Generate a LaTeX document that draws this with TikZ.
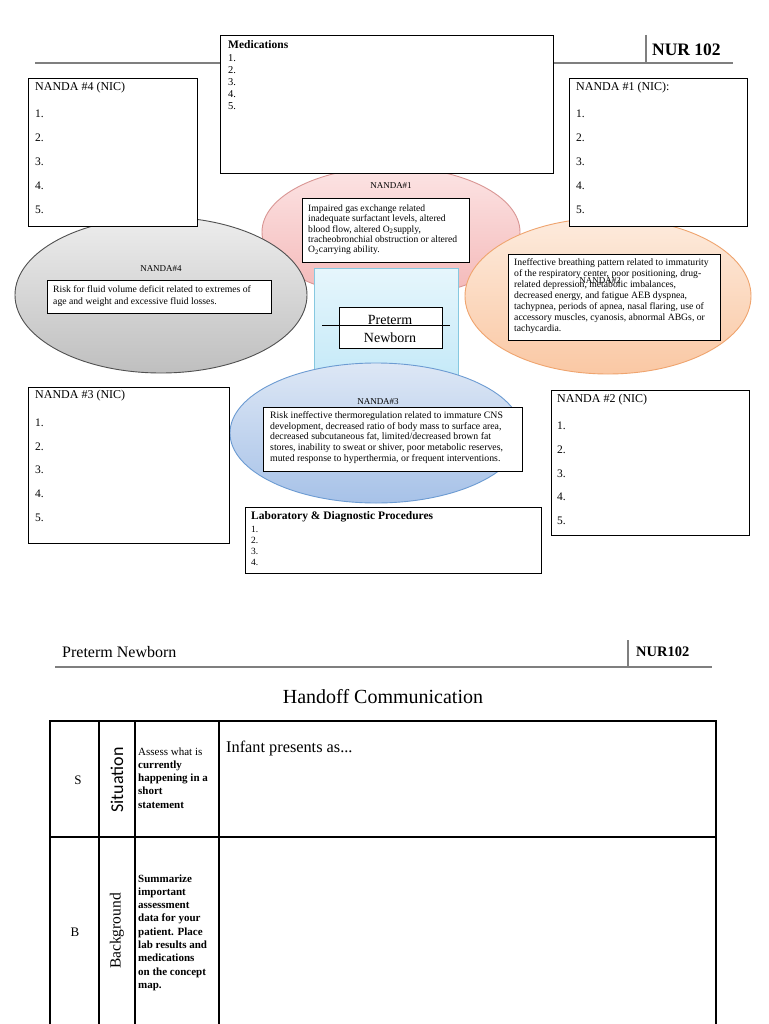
\documentclass[tikz,border=0pt]{standalone}
\usepackage{fontspec}
\setmainfont{Liberation Serif}
\newfontfamily\sitfont{Carlito}
\usetikzlibrary{shapes.geometric}
\newcommand{\setfs}[2]{\fontsize{#1}{#2}\selectfont}
\definecolor{pinkT}{HTML}{FCE4E4}
\definecolor{pinkB}{HTML}{F4B8B8}
\definecolor{pinkD}{HTML}{D99694}
\definecolor{grayT}{HTML}{EDEDED}
\definecolor{grayB}{HTML}{BFBFBF}
\definecolor{grayD}{HTML}{505050}
\definecolor{peachT}{HTML}{FDEBDD}
\definecolor{peachB}{HTML}{FAC8A4}
\definecolor{peachD}{HTML}{EFA46E}
\definecolor{blueT}{HTML}{DDE7F5}
\definecolor{blueB}{HTML}{A7C2E8}
\definecolor{blueD}{HTML}{6C9BD2}
\definecolor{cyanT}{HTML}{E6F6FC}
\definecolor{cyanB}{HTML}{C4E9F8}
\definecolor{cyanD}{HTML}{86C8E0}
\definecolor{hdrgray}{HTML}{7F7F7F}
\begin{document}
\begin{tikzpicture}[x=1pt,y=-1pt,
  box/.style={draw=black, line width=0.8pt, fill=white, anchor=north west, inner sep=0pt},
  oval/.style={ellipse, inner sep=0pt, line width=0.9pt},
  nichead/.style={anchor=west, inner sep=0pt, font=\setfs{12}{14}},
  nicitem/.style={anchor=west, inner sep=0pt, font=\setfs{11.5}{13}},
  para/.style={anchor=north west, inner sep=0pt, align=left},
  lbl/.style={inner sep=0pt, font=\setfs{9}{11}},
  hdrline/.style={draw=hdrgray, line width=1.6pt},
  tline/.style={draw=black, line width=1.1pt},
  desc/.style={anchor=north west, inner sep=0pt, align=left, font=\setfs{11}{13.3}\bfseries}
]
\useasboundingbox (0,0) rectangle (768,1024);
\fill[white] (0,0) rectangle (768,1024);

% ---------- top header ----------
\draw[hdrline] (35,63) -- (733,63);
\draw[hdrline] (646,35) -- (646,63);
\node[anchor=west, inner sep=0pt, font=\setfs{17.5}{20}\bfseries] (nur1) at (652,50) {NUR 102};

% ---------- ovals ----------
\node[oval, draw=pinkD, top color=pinkT, bottom color=pinkB, minimum width=258pt, minimum height=130pt] (e1) at (391,232) {};
\node[oval, draw=grayD, top color=grayT, bottom color=grayB, minimum width=292pt, minimum height=156pt] (e4) at (161,295) {};
\node[oval, draw=peachD, top color=peachT, bottom color=peachB, minimum width=286pt, minimum height=156pt] (e2) at (608,296) {};
\node[draw=cyanD, line width=0.8pt, top color=cyanT, bottom color=cyanB, anchor=north west, inner sep=0pt, minimum width=144pt, minimum height=112pt] (core) at (314,268) {};
\node[oval, draw=blueD, top color=blueT, bottom color=blueB, minimum width=292pt, minimum height=140pt] (e3) at (376,433) {};

% ---------- medications ----------
\node[box, minimum width=333pt, minimum height=138pt] (meds) at (220,35) {};
\node[anchor=west, inner sep=0pt, font=\setfs{11.5}{13}\bfseries] (medh) at (228,45) {Medications};
\node[para, font=\setfs{10.5}{12}] (medl) at (228,54.2) {1.\\2.\\3.\\4.\\5.};

% ---------- NIC boxes ----------
\node[box, minimum width=169pt, minimum height=148pt] (nic4) at (28,78) {};
\node[nichead] (nic4h) at (35,88) {NANDA \#4 (NIC)};
\node[box, minimum width=178pt, minimum height=148pt] (nic1) at (569,78) {};
\node[nichead] (nic1h) at (576,88) {NANDA \#1 (NIC):};
\node[box, minimum width=201pt, minimum height=156pt] (nic3) at (28,387) {};
\node[nichead] (nic3h) at (35,396) {NANDA \#3 (NIC)};
\node[box, minimum width=198pt, minimum height=145pt] (nic2) at (551,390) {};
\node[nichead] (nic2h) at (557,400) {NANDA \#2 (NIC)};
\foreach \i/\ya/\yb/\yc in {1/114/426/423, 2/138/450/447, 3/162/474/470, 4/186/497/494, 5/210/521/518}{
  \node[nicitem] (nic4i\i) at (35,\ya) {\i.};
  \node[nicitem] (nic1i\i) at (576,\ya) {\i.};
  \node[nicitem] (nic3i\i) at (35,\yc) {\i.};
  \node[nicitem] (nic2i\i) at (557,\yb) {\i.};
}

% ---------- NANDA #1 ----------
\node[lbl] (l1) at (391,186) {NANDA\#1};
\node[box, minimum width=167pt, minimum height=64pt] (t1box) at (302,198) {};
\node[para, font=\setfs{9.6}{10.4}] (t1) at (308,204.5) {Impaired gas exchange related\\inadequate surfactant levels, altered\\blood flow, altered O\textsubscript{2}supply,\\tracheobronchial obstruction or altered\\O\textsubscript{2}carrying ability.};

% ---------- NANDA #4 ----------
\node[lbl] (l4) at (161,269) {NANDA\#4};
\node[box, minimum width=224pt, minimum height=33pt] (t4box) at (47,280) {};
\node[para, font=\setfs{9.7}{12}] (t4) at (53,285.5) {Risk for fluid volume deficit related to extremes of\\age and weight and excessive fluid losses.};

% ---------- NANDA #2 ----------
\node[box, minimum width=212pt, minimum height=86pt] (t2box) at (508,254) {};
\node[para, font=\setfs{9.7}{11}] (t2) at (514,258.5) {Ineffective breathing pattern related to immaturity\\of the respiratory center, poor positioning, drug-\\related depression, metabolic imbalances,\\decreased energy, and fatigue AEB dyspnea,\\tachypnea, periods of apnea, nasal flaring, use of\\accessory muscles, cyanosis, abnormal ABGs, or\\tachycardia.};
\node[lbl] (l2) at (600,281) {NANDA\#2};

% ---------- core ----------
\node[box, minimum width=103pt, minimum height=41pt] (pn) at (339,307) {};
\node[inner sep=0pt, font=\setfs{14}{17}] (pn1) at (390,320) {Preterm};
\node[inner sep=0pt, font=\setfs{14}{17}] (pn2) at (390,338) {Newborn};
\draw[black, line width=0.8pt] (322,325) -- (450,325);

% ---------- NANDA #3 ----------
\node[lbl] (l3) at (378,402) {NANDA\#3};
\node[box, minimum width=259pt, minimum height=64pt] (t3box) at (263,407) {};
\node[para, font=\setfs{9.8}{10.9}] (t3) at (270,411) {Risk ineffective thermoregulation related to immature CNS\\development, decreased ratio of body mass to surface area,\\decreased subcutaneous fat, limited/decreased brown fat\\stores, inability to sweat or shiver, poor metabolic reserves,\\muted response to hyperthermia, or frequent interventions.};

% ---------- Lab ----------
\node[box, minimum width=296pt, minimum height=66pt] (lab) at (245,507) {};
\node[anchor=west, inner sep=0pt, font=\setfs{11.5}{13}\bfseries] (labh) at (251,517) {Laboratory \& Diagnostic Procedures};
\node[para, font=\setfs{9.5}{11}] (labl) at (251,525.6) {1.\\2.\\3.\\4.};

% ---------- second page header ----------
\node[anchor=west, inner sep=0pt, font=\setfs{16}{18}] (ptn) at (62,652) {Preterm Newborn};
\draw[hdrline] (55,667) -- (712,667);
\draw[hdrline] (628,640) -- (628,667);
\node[anchor=west, inner sep=0pt, font=\setfs{14.5}{17}\bfseries] (nur2) at (636,652) {NUR102};
\node[inner sep=0pt, font=\setfs{20}{23}] (title) at (383,697) {Handoff Communication};

% ---------- table ----------
\coordinate (tl) at (50,721);
\coordinate (tr) at (716,721);
\coordinate (bl) at (50,1024);
\coordinate (br) at (716,1024);
\draw[tline] (bl) -- (tl) -- (tr) -- (br);
\draw[tline] (99,721) -- (99,1024);
\draw[tline] (135,721) -- (135,1024);
\draw[tline] (219,721) -- (219,1024);
\draw[tline] (50,837) -- (716,837);

\node[inner sep=0pt, font=\setfs{13}{15}] (sS) at (78,780) {S};
\node[inner sep=0pt, font=\setfs{13}{15}] (sB) at (75,932) {B};
\node[inner sep=0pt, rotate=90, font=\sitfont\setfs{18}{20}] (sit) at (117,780) {Situation};
\node[inner sep=0pt, rotate=90, font=\setfs{15.5}{18}] (bg) at (117,931) {Background};

\node[desc] (sdesc) at (138,747.2) {{\mdseries Assess what is}\\currently\\happening in a\\short\\statement};
\node[desc] (bdesc) at (138,874.2) {Summarize\\important\\assessment\\data for your\\patient. Place\\lab results and\\medications\\on the concept\\map.};
\node[anchor=west, inner sep=0pt, font=\setfs{16.3}{19}] (inf) at (226,748) {Infant presents as...};
\end{tikzpicture}
\end{document}
